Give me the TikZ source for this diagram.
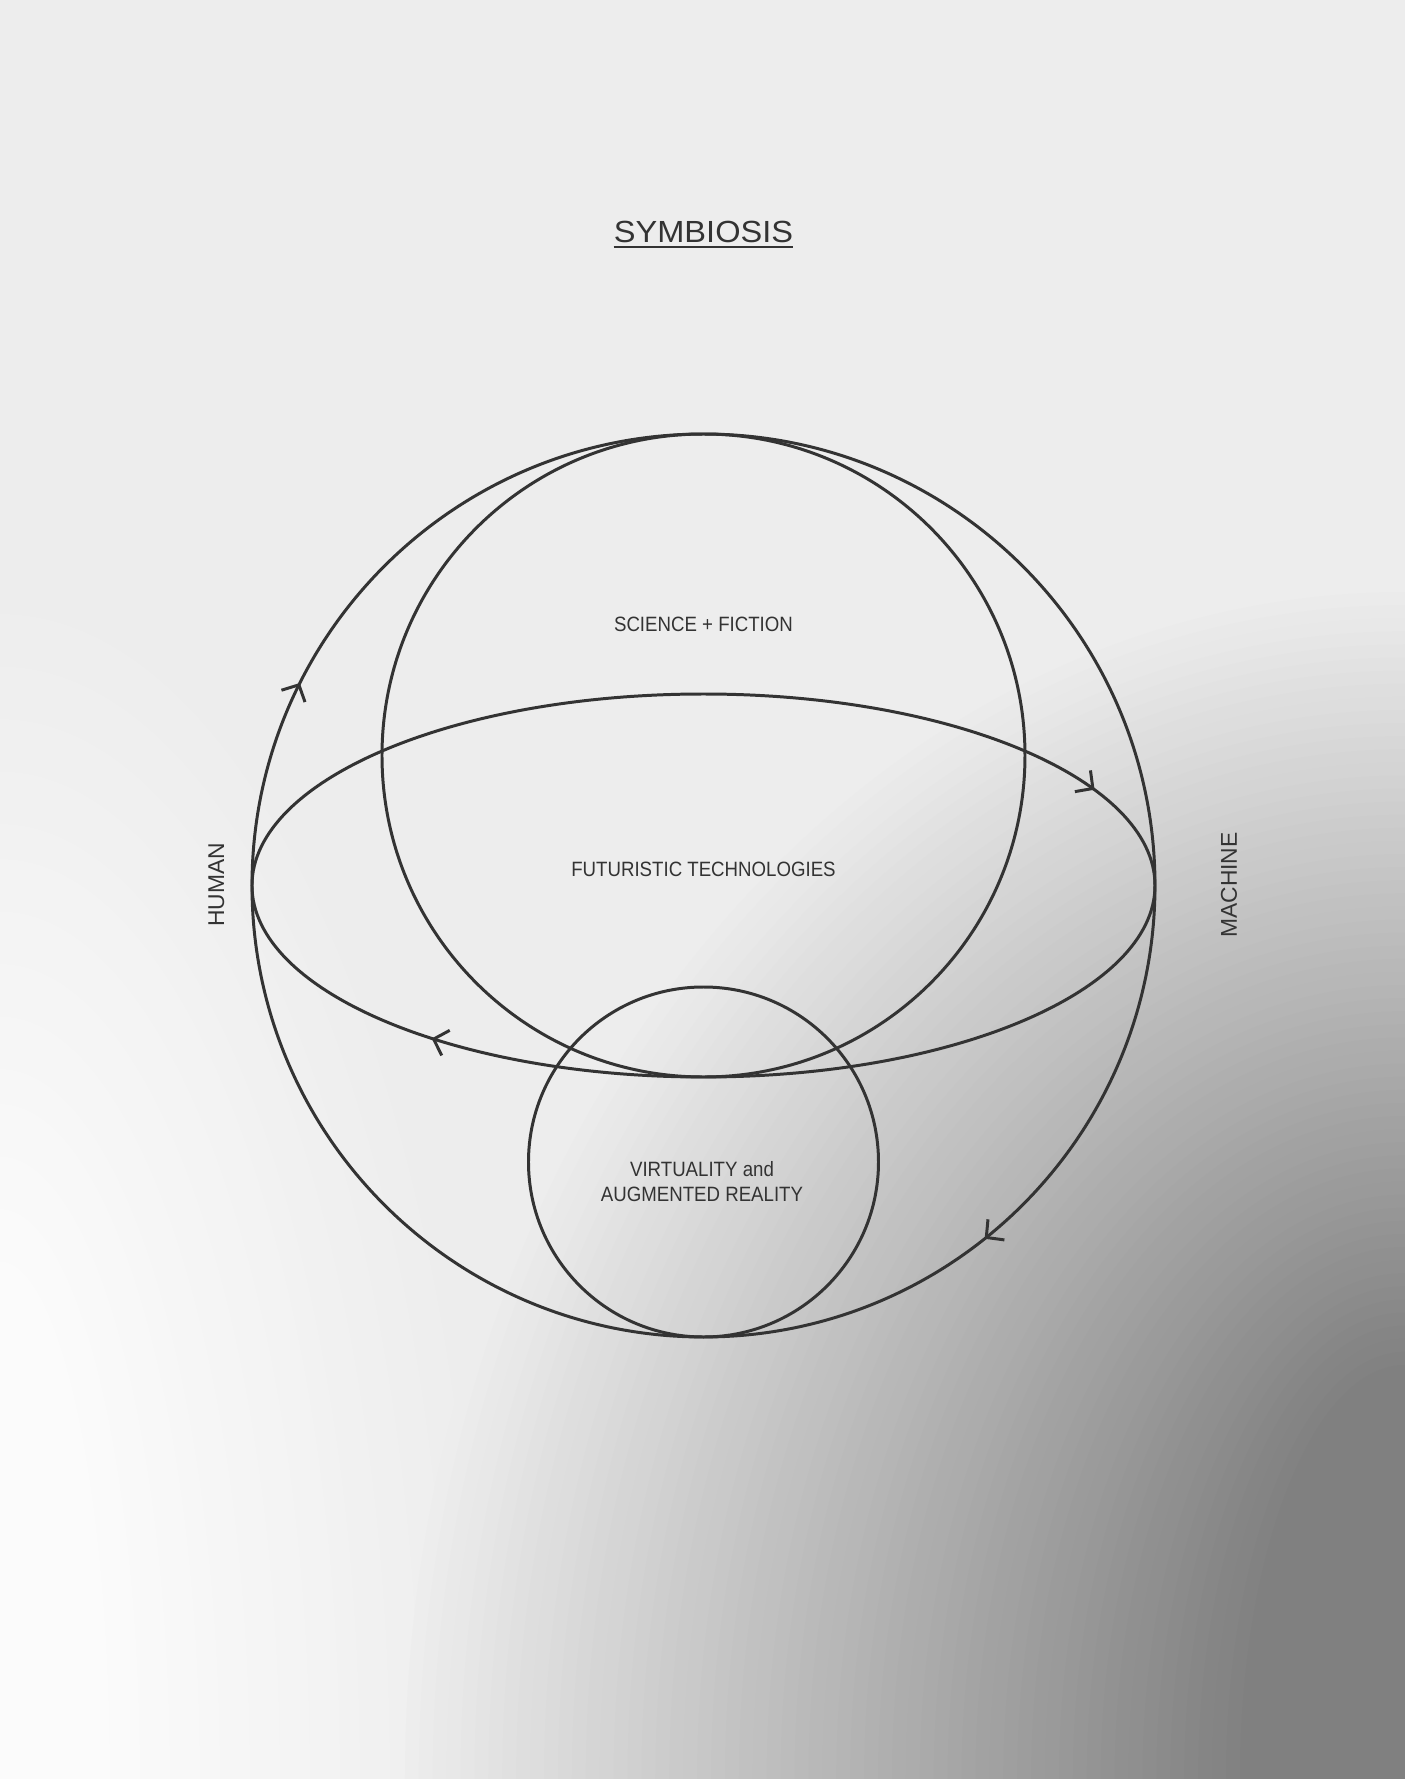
\documentclass[tikz,border=0pt]{standalone}
\usepackage{fontspec}
\setmainfont{Liberation Sans}
\newfontfamily\titlefont[FakeStretch=1.065]{Liberation Sans}
\newfontfamily\labelfont[FakeStretch=0.9]{Liberation Sans}
\usetikzlibrary{arrows.meta,decorations.markings}
\definecolor{ink}{HTML}{333333}
\definecolor{paper}{HTML}{EDEDED}
\tikzset{
  ring/.style={draw=ink, line width=1.7pt},
  barbs/.style 2 args={postaction={decorate}, decoration={markings,
      mark=at position #1 with {\arrowreversed{Straight Barb[length=7.2pt,width=15pt,color=ink]}},
      mark=at position #2 with {\arrowreversed{Straight Barb[length=7.2pt,width=15pt,color=ink]}}}},
  lab/.style={text=ink, inner sep=0pt, align=center, font=\labelfont\fontsize{11.8}{14.5}\selectfont},
  side/.style={text=ink, inner sep=0pt, rotate=90, font=\fontsize{13}{15}\selectfont}
}
\begin{document}
\begin{tikzpicture}[x=0.02cm, y=0.02cm]
\useasboundingbox (-703.5,-893.5) rectangle (701.5,885.5);
% background
\fill[paper] (-703.5,-893.5) rectangle (701.5,885.5);
\begin{scope}
\clip (-703.5,-893.5) rectangle (701.5,885.5);
\foreach \i in {0,...,40}
{
    \pgfmathsetmacro\t{1-\i/40}
    \pgfmathsetmacro\g{(251-14*\t)/255}
    \definecolor{shadec}{gray}{\g}
    \fill[shadec] (-703.5,-893.5) ellipse [x radius={100+400*\t}, y radius={500+700*\t}];
}
\foreach \i in {0,...,60}
{
    \pgfmathsetmacro\t{1-\i/60}
    \pgfmathsetmacro\g{(128+109*\t)/255}
    \definecolor{shadec}{gray}{\g}
    \fill[shadec] (701.5,-893.5) ellipse [x radius={165+835*\t}, y radius={414+786*\t}];
}
\end{scope}

% circles
\draw[ring, barbs={0.426}{0.857}] (0,0) circle [radius=451.5];
\draw[ring] (0,130) circle [radius=321.5];
\draw[ring, barbs={0.0559}{0.619}] (0,0) ellipse [x radius=451.5, y radius=191.5];
\draw[ring] (0,-276.5) circle [radius=175];

% labels
\node[inner sep=0pt, text=ink, font=\titlefont\fontsize{17.4}{20}\selectfont] (title) at (0,653.5) {SYMBIOSIS};
\draw[ink, line width=1.2pt] ([yshift=-2.6pt]title.base west) -- ([yshift=-2.6pt]title.base east);
\node[lab] (scifi) at (0,261.5) {SCIENCE + FICTION};
\node[lab] (futur) at (0,16) {FUTURISTIC TECHNOLOGIES};
\node[lab] (virtual) at (-1.5,-296.25) {VIRTUALITY and\\AUGMENTED REALITY};
\node[side] (human) at (-487,0.5) {HUMAN};
\node[side] (machine) at (525.5,0.5) {MACHINE};

\end{tikzpicture}
\end{document}
